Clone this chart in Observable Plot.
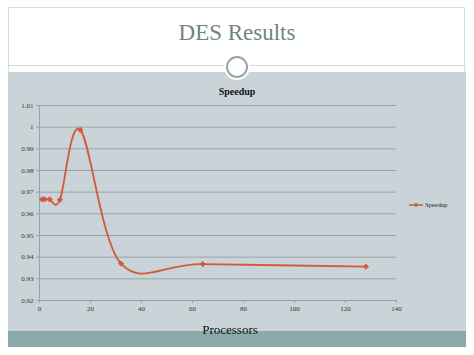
<!DOCTYPE html>
<html>
<head>
<meta charset="utf-8">
<script src="https://cdn.jsdelivr.net/npm/d3@7"></script>
<script src="https://cdn.jsdelivr.net/npm/@observablehq/plot@0.6"></script>
<style>
  html, body { margin: 0; padding: 0; background: #fff; }
  #slide { position: relative; width: 474px; height: 355px; overflow: hidden; background: #fff; font-family: "Liberation Serif", serif; }
  #border { position: absolute; left: 8px; top: 7px; width: 457px; height: 340px; border: 1px solid #d8dcdc; box-sizing: border-box; }
  #title { position: absolute; left: 0; width: 474px; top: 20px; text-align: center; font-size: 23px; color: #6f8585; }
  #hline { position: absolute; left: 8px; width: 458px; top: 65px; height: 1px; background: #d6dada; }
  #panel { position: absolute; left: 8px; width: 458px; top: 72px; height: 259px; background: #c9d3d8; }
  #band { position: absolute; left: 8px; width: 458px; top: 331px; height: 16px; background: #8aa9a8; }
  #circle { position: absolute; left: 224px; top: 54px; width: 26px; height: 26px; border-radius: 50%; background: #fff; }
  #ring { position: absolute; left: 226px; top: 56px; width: 18px; height: 18px; border-radius: 50%; border: 2px double #9aa4a4; background: #fff; }
  #chart { position: absolute; left: 0; top: 72px; }
  #ctitle { position: absolute; left: 0; width: 474px; top: 86px; text-align: center; font-size: 10px; font-weight: bold; color: #111; }
  #xlabel { position: absolute; left: 0; width: 460px; top: 322px; text-align: center; font-size: 13px; color: #111; }
  #legend { position: absolute; left: 409px; top: 201px; font-size: 6.5px; color: #222; display: flex; align-items: center; }
</style>
</head>
<body>
<div id="slide">
  <div id="border"></div>
  <div id="title">DES Results</div>
  <div id="hline"></div>
  <div id="panel"></div>
  <div id="band"></div>
  <div id="circle"></div>
  <div id="ring"></div>
  <div id="chart"></div>
  <div id="ctitle">Speedup</div>
  <div id="xlabel">Processors</div>
  <div id="legend"></div>
</div>
<script>
const processors = [1, 2, 4, 8, 16, 32, 64, 128];
const speedup = [0.9667, 0.9667, 0.9667, 0.9665, 0.9988, 0.9370, 0.9368, 0.9356];
const xTicks = [0, 20, 40, 60, 80, 100, 120, 140];
const yTicks = [0.92, 0.93, 0.94, 0.95, 0.96, 0.97, 0.98, 0.99, 1.00, 1.01];
const seriesName = "Speedup";
const lineColor = "#d25a3c";

const data = processors.map((p, i) => ({processors: p, speedup: speedup[i]}));

const chart = Plot.plot({
  width: 474,
  height: 258,
  marginLeft: 39,
  marginRight: 78,
  marginTop: 33,
  marginBottom: 30,
  style: { background: "transparent", fontFamily: "Liberation Serif, serif", fontSize: "7px", color: "#333", overflow: "visible" },
  x: { domain: [0, 140], ticks: xTicks, tickSize: 3, tickPadding: 3, label: null },
  y: { domain: [0.92, 1.01], ticks: yTicks, tickSize: 3, tickPadding: 3, label: null, tickFormat: d => String(+d.toFixed(2)) },
  marks: [
    Plot.gridY(yTicks, { stroke: "#98a3a9", strokeOpacity: 1, strokeWidth: 1 }),
    Plot.ruleX([0], { stroke: "#98a3a9" }),
    Plot.ruleY([0.92], { stroke: "#98a3a9" }),
    Plot.axisX({ ticks: xTicks, tickSize: 3, tickPadding: 3, stroke: "#98a3a9", label: null }),
    Plot.axisY({ ticks: yTicks, tickSize: 3, tickPadding: 3, stroke: "#98a3a9", label: null, tickFormat: d => String(+d.toFixed(2)) }),
    Plot.line(data, { x: "processors", y: "speedup", curve: "cardinal", tension: 0, stroke: lineColor, strokeWidth: 1.8 }),
    Plot.dot(data, { x: "processors", y: "speedup", symbol: "diamond2", r: 2.4, fill: lineColor, stroke: lineColor, strokeWidth: 0.8 })
  ]
});
document.getElementById("chart").appendChild(chart);

document.getElementById("legend").innerHTML =
  `<svg width="15" height="6"><line x1="0" y1="3" x2="14" y2="3" stroke="${lineColor}" stroke-width="1.5"/><path d="M7 0.8 L9.2 3 L7 5.2 L4.8 3 Z" fill="${lineColor}"/></svg><span style="margin-left:1px">${seriesName}</span>`;
</script>
</body>
</html>
